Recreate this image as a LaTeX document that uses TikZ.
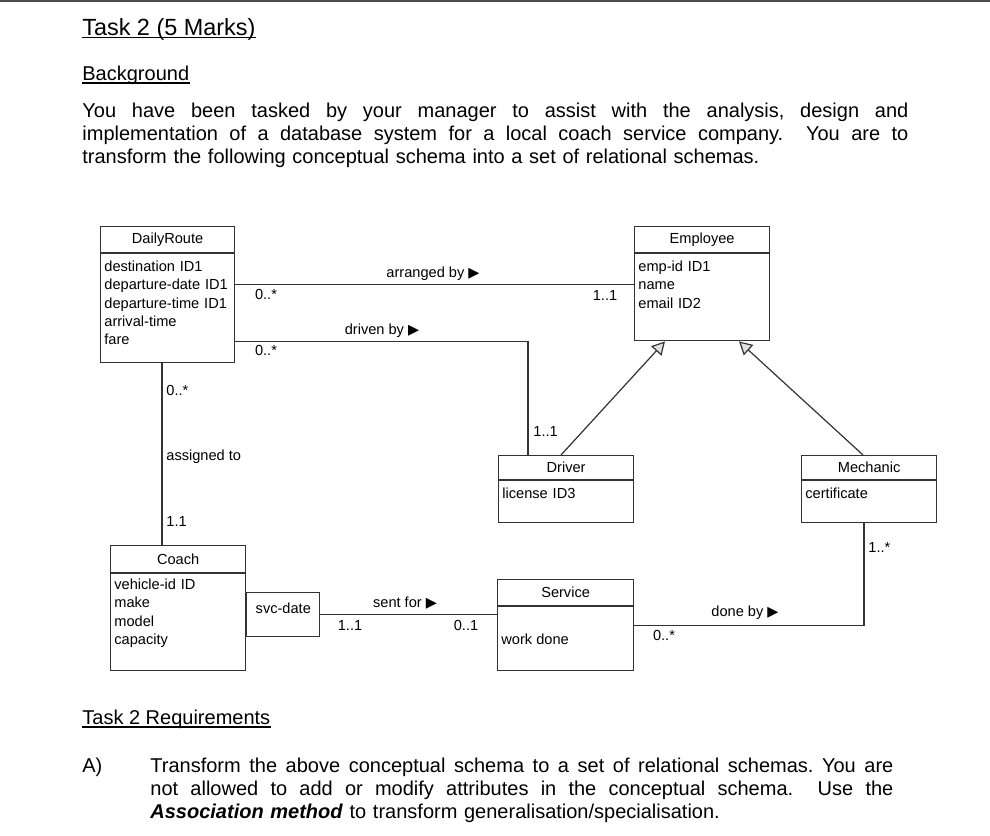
\documentclass[tikz,border=0pt]{standalone}
\usepackage{fontspec}
\setmainfont{Liberation Sans}
\newfontfamily\symfont{DejaVu Sans}
\usepackage{tikz}
\usetikzlibrary{arrows.meta}
\usetikzlibrary{calc}
\usetikzlibrary{positioning}

\newcommand*{\umlfont}{\fontsize{7.3}{9.2}\selectfont}
\newcommand*{\bodyfont}{\fontsize{10}{11.6}\selectfont}
\newcommand*{\titlefont}{\fontsize{11.7}{14}\selectfont}
\newcommand*{\dirtri}{{\symfont\fontsize{7.2}{7.2}\selectfont\char"25B6}}
\newcommand*{\fullline}[2]{\makebox[#1][s]{\frenchspacing\spaceskip=0pt\xspaceskip=0pt #2}}
\definecolor{rulegray}{gray}{0.3}
\definecolor{linegray}{gray}{0.2}

\tikzset{
    diagram/.style={x=0.5pt, y=-0.5pt},
    umlbox/.style={draw=linegray, line width=0.6pt, inner sep=0pt, minimum width=67.5pt, anchor=north west},
    hdr/.style={umlbox, minimum height=13pt, font=\umlfont},
    attrs/.style={font=\umlfont, align=left, text width=62pt, inner sep=0pt, anchor=base west},
    mult/.style={font=\umlfont, inner sep=0pt},
    link/.style={draw=linegray, line width=0.6pt},
    isa/.style={link, -{Triangle[length=6.5pt, width=7pt, fill=black!12]}},
    uline/.style={line width=0.75pt},
    para/.style={font=\bodyfont, inner sep=0pt, anchor=base west, align=left}
}

\begin{document}
\begin{tikzpicture}[diagram]
    \useasboundingbox (0,0) rectangle (990,835);
    \draw [rulegray, line width=1pt] (0,1) -- (990,1);

    % heading and background
    \node [inner sep=0pt, anchor=base west, font=\titlefont] (title) at (82,35) {Task 2 (5 Marks)};
    \draw [uline] ($(title.base west)+(0,2.5)$) -- ($(title.base east)+(0,2.5)$);
    \node [para] (bgHd) at (82,80) {Background};
    \draw [uline] ($(bgHd.base west)+(0,3)$) -- ($(bgHd.base east)+(0,3)$);
    \node [para, text width=413pt] (intro) at (82,117) {%
        \fullline{413pt}{You have been tasked by your manager to assist with the analysis, design and}\\
        \fullline{413pt}{implementation of a database system for a local coach service company.\ \ You are to}\\
        transform the following conceptual schema into a set of relational schemas.};

    % classes
    \node [hdr, minimum width=67pt] (routeHd) at (100,226) {DailyRoute};
    \node [umlbox, minimum width=67pt, minimum height=54.5pt, below=0pt of routeHd] (route) {};
    \node [attrs] (routeAt) at ($(route.north west)+(4,18)$) {destination ID1\\departure-date ID1\\departure-time ID1\\arrival-time\\fare};

    \node [hdr] (empHd) at (634,226) {Employee};
    \node [umlbox, minimum height=43.5pt, below=0pt of empHd] (emp) {};
    \node [attrs] (empAt) at ($(emp.north west)+(4,18)$) {emp-id ID1\\name\\email ID2};

    \node [hdr, minimum height=12pt] (driverHd) at (498,455) {Driver};
    \node [umlbox, minimum height=21pt, below=0pt of driverHd] (driver) {};
    \node [attrs] (driverAt) at ($(driver.north west)+(4,18)$) {license ID3};

    \node [hdr, minimum height=12pt] (mechHd) at (801,455) {Mechanic};
    \node [umlbox, minimum height=21pt, below=0pt of mechHd] (mech) {};
    \node [attrs] (mechAt) at ($(mech.north west)+(4,18)$) {certificate};

    \node [hdr, minimum height=13.5pt] (coachHd) at (110,545) {Coach};
    \node [umlbox, minimum height=48.5pt, below=0pt of coachHd] (coach) {};
    \node [attrs] (coachAt) at ($(coach.north west)+(4,16)$) {vehicle-id ID\\make\\model\\capacity};
    \node [umlbox, minimum width=36.5pt, minimum height=22pt, font=\umlfont, text height=5.3pt, text depth=7.1pt] (svcDate) at ($(coach.north east)+(0,19)$) {svc-date};

    \node [hdr, minimum width=68pt] (serviceHd) at (497,579) {Service};
    \node [umlbox, minimum width=68pt, minimum height=32pt, below=0pt of serviceHd] (service) {};
    \node [mult, anchor=west] (serviceAt) at ($(service.west)+(4,0)$) {work done};

    % associations
    \draw [link] ($(route.north east)+(0,31)$) coordinate (arrS) -- (arrS -| emp.west);
    \node [mult] (arrLbl) at (433,274) {arranged by \dirtri};
    \node [mult] (arrM1) at (266,294) {0..*};
    \node [mult] (arrM2) at (605,295) {1..1};

    \draw [link] ($(route.north east)+(0,88)$) coordinate (drvS) -| ($(driverHd.north west)+(30,0)$);
    \node [mult] (drvLbl) at (382,331) {driven by \dirtri};
    \node [mult] (drvM1) at (266,350) {0..*};
    \node [mult, anchor=west] (drvM2) at (533,431) {1..1};

    \draw [link] ($(route.south west)+(62,0)$) coordinate (asgS) -- (asgS |- coachHd.north);
    \node [mult, anchor=west] (asgM1) at (166,390) {0..*};
    \node [mult, anchor=west] (asgLbl) at (166,457) {assigned to};
    \node [mult, anchor=west] (asgM2) at (166,521) {1.1};

    \draw [link] (svcDate.east) -- (svcDate.east -| service.west);
    \node [mult] (sentLbl) at (405,603) {sent for \dirtri};
    \node [mult] (sentM1) at (350,625) {1..1};
    \node [mult] (sentM2) at (466,625) {0..1};

    \draw [link] ($(mech.south west)+(63,0)$) coordinate (doneS) |- ($(service.north east)+(0,19)$);
    \node [mult, anchor=west] (doneM2) at (868,547) {1..*};
    \node [mult] (doneLbl) at (745,613) {done by \dirtri};
    \node [mult] (doneM1) at (664,635) {0..*};

    % generalisation
    \draw [isa] ($(driverHd.north west)+(63,0)$) -- ($(emp.south west)+(31,0)$);
    \draw [isa] ($(mechHd.north west)+(62,0)$) -- ($(emp.south west)+(105,0)$);

    % requirements
    \node [para] (reqHd) at (82,724) {Task 2 Requirements};
    \draw [uline] ($(reqHd.base west)+(0,3)$) -- ($(reqHd.base east)+(0,3)$);
    \node [para] (reqNo) at (82,772) {A)};
    \node [para, text width=371.5pt] (reqA) at (150,772) {%
        \fullline{371.5pt}{Transform the above conceptual schema to a set of relational schemas. You are}\\
        \fullline{371.5pt}{not allowed to add or modify attributes in the conceptual schema.\ \ Use the}\\
        \textbf{\textit{Association method}} to transform generalisation/specialisation.};
\end{tikzpicture}
\end{document}
